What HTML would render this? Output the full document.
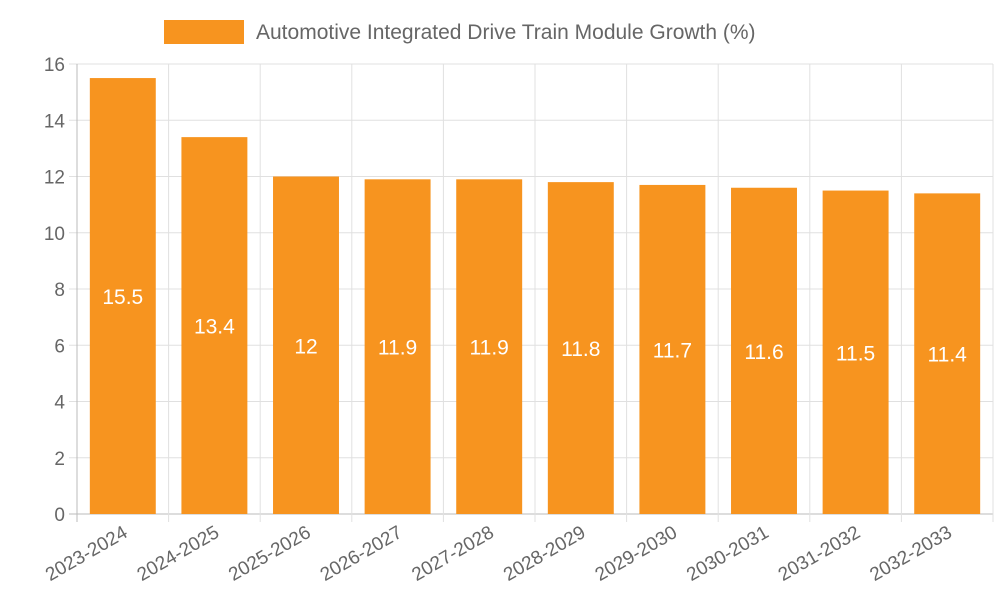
<!DOCTYPE html>
<html><head><meta charset="utf-8"><style>
body{margin:0;background:#fff;}
svg{display:block;font-family:"Liberation Sans",sans-serif;}
</style></head><body>
<svg id="chart" width="1000" height="600">
<g id="legend">
<rect x="164" y="20" width="80" height="24" fill="#f7941f"/>
<text x="256" y="39" font-size="21" fill="#666">Automotive Integrated Drive Train Module Growth (%)</text>
</g>
<g id="grid"></g><g id="bars"></g><g id="axes"></g>
</svg>
<script>
const categories=["2023-2024","2024-2025","2025-2026","2026-2027","2027-2028","2028-2029","2029-2030","2030-2031","2031-2032","2032-2033"];
const values=[15.5,13.4,12,11.9,11.9,11.8,11.7,11.6,11.5,11.4];
const yTicks=[0,2,4,6,8,10,12,14,16];
const L=77,R=993,T=64,B=514,yMax=16;
const NS="http://www.w3.org/2000/svg";
const bw=(R-L)/categories.length;
const y=v=>B-(v/yMax)*(B-T);
const x=i=>L+i*bw;
function mk(tag,attrs,parent,txt){const e=document.createElementNS(NS,tag);for(const k in attrs)e.setAttribute(k,attrs[k]);if(txt!==undefined)e.textContent=txt;document.getElementById(parent).appendChild(e);return e;}
yTicks.forEach(t=>{
 const g=mk('line',{x1:L-8,x2:R,y1:y(t),y2:y(t),stroke:t===0?'#bbb':'#e0e0e0','stroke-width':1},'grid');
 
 
 const l=mk('text',{x:L-12,y:y(t)+7,'text-anchor':'end','font-size':19,fill:'#666'},'axes',String(t));
 
 
});
for(let i=0;i<=categories.length;i++){
 const g=mk('line',{x1:x(i),x2:x(i),y1:T,y2:B+8,stroke:i===0?'#bbb':'#e0e0e0','stroke-width':1},'grid');
 
 
}
categories.forEach((c,i)=>{
 const w=bw*0.72, bx=x(i)+(bw-w)/2;
 const r=mk('rect',{x:bx,y:y(values[i]),width:w,height:B-y(values[i]),fill:'#f7941f'},'bars');
 
 
 const v=mk('text',{x:bx+w/2,y:(y(values[i])+B)/2+8,'text-anchor':'middle','font-size':21,fill:'#fff'},'bars',String(values[i]));
 
 
 const cx=x(i)+bw/2+6;
 const l=mk('text',{x:cx,y:B+22,'text-anchor':'end','font-size':19,fill:'#666',transform:`rotate(-30 ${cx} ${B+22})`},'axes',c);
 
 
});
</script>
</body></html>
